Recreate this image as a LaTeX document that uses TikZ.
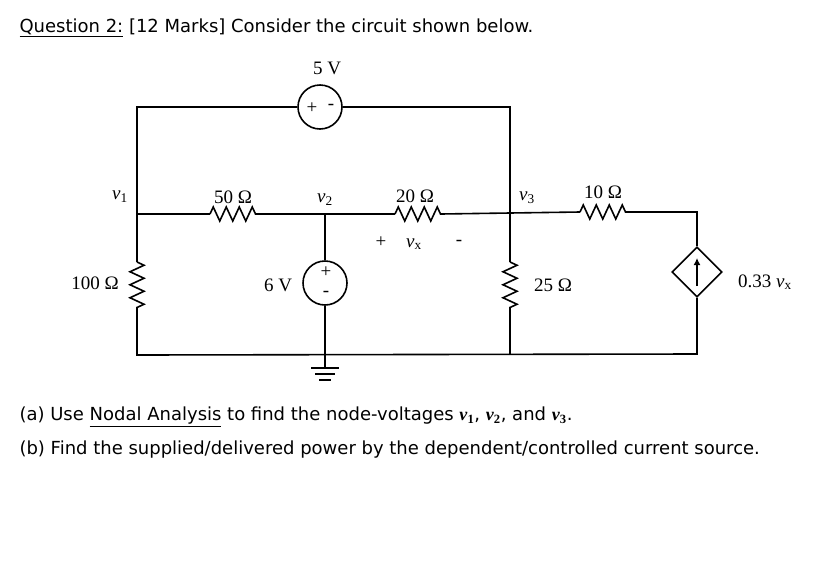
\documentclass[tikz,border=0pt]{standalone}
\usepackage{fontspec}
\setmainfont{Liberation Serif}
\newfontfamily\qsans{DejaVu Sans}
\newfontfamily\qserif{Liberation Serif}
\usetikzlibrary{decorations.pathmorphing,shapes.geometric,arrows.meta}
\newcommand{\vv}[1]{\qserif\textit{v}\textsubscript{#1}}
\begin{document}
\begin{tikzpicture}[x=1pt,y=-1pt,
  w/.style={line width=1.6pt},
  res/.style={w,decorate,decoration={zigzag,segment length=13pt,amplitude=7pt}},
  src/.style={circle,draw,line width=1.6pt,minimum size=44pt,inner sep=0pt},
  dsrc/.style={diamond,draw,line width=1.6pt,minimum size=50pt,inner sep=0pt},
  lab/.style={font=\fontsize{19}{19}\selectfont},
  q/.style={anchor=west,font=\qsans\fontsize{18}{20}\selectfont}]
\useasboundingbox (0,0) rectangle (832,560);
\fill[white] (0,0) rectangle (832,560);
% coordinates
\coordinate (tl) at (137,107); \coordinate (tr) at (510,107);
\coordinate (n1) at (137,214); \coordinate (n2) at (325,214); \coordinate (n3) at (510,213);
\coordinate (bl) at (137,355); \coordinate (g) at (325,355); \coordinate (b3) at (510,354); \coordinate (br) at (697,354);
\coordinate (tr2) at (697,212);
\coordinate (r50a) at (210,214); \coordinate (r50b) at (256,214);
\coordinate (r20a) at (395,214); \coordinate (r20b) at (441,214);
\coordinate (r10a) at (580,212); \coordinate (r10b) at (626,212);
\coordinate (r100a) at (137,262); \coordinate (r100b) at (137,310);
\coordinate (r25a) at (510,262); \coordinate (r25b) at (510,310);
\node[src] (s5) at (320,107) {};
\node[src] (s6) at (325,283) {};
\node[dsrc] (dep) at (697,272) {};
% wires
\draw[w] (s5) -- (tl) -- (n1) -- (r50a); \draw[w] (s5) -- (tr) -- (n3);
\draw[res] (r50a) -- (r50b); \draw[w] (r50b) -- (n2) -- (r20a);
\draw[res] (r20a) -- (r20b); \draw[w] (r20b) -- (n3) -- (r10a);
\draw[res] (r10a) -- (r10b); \draw[w] (r10b) -- (tr2) -- (dep.north);
\draw[w] (n1) -- (r100a); \draw[res] (r100a) -- (r100b); \draw[w] (r100b) -- (bl) -- (br) -- (dep.south);
\draw[w] (n3) -- (r25a); \draw[res] (r25a) -- (r25b); \draw[w] (r25b) -- (b3);
\draw[w] (n2) -- (s6.north); \draw[w] (s6.south) -- (g) -- (325,368);
\draw[w] (311,368) -- (339,368) (315,374) -- (335,374) (319,380) -- (331,380);
\draw[w,-{Latex[length=7pt,width=7pt]}] (697,286) -- (697,258);
% source signs
\node[lab] (p5) at (312,108) {+}; \node[lab] (m5) at (331,107) {-};
\node[lab] (p6) at (326,272) {+}; \node[lab] (m6) at (326,294) {-};
% labels
\node[lab] (l5) at (327,68) {5 V};
\node[lab] (lv1) at (120,197) {\vv{1}};
\node[lab] (l50) at (233,197) {50 Ω};
\node[lab] (lv2) at (325,200) {\vv{2}};
\node[lab] (l20) at (415,196) {20 Ω};
\node[lab] (lv3) at (527,198) {\vv{3}};
\node[lab] (l10) at (603,192) {10 Ω};
\node[lab] (lp) at (381,242) {+};
\node[lab] (lvx) at (414,244) {\vv{x}};
\node[lab] (lm) at (459,243) {-};
\node[lab] (l100) at (95,283) {100 Ω};
\node[lab] (l6) at (278,285) {6 V};
\node[lab] (l25) at (553,285) {25 Ω};
\node[lab] (l033) at (765,282) {0.33 \vv{x}};
% text
\node[q] (t1) at (16,28) {\underline{Question 2:} [12 Marks] Consider the circuit shown below.};
\node[q] (t2) at (16,417) {(a) Use \underline{Nodal Analysis} to find the node-voltages {\bfseries\vv{1}}, {\bfseries\vv{2}}, and {\bfseries\vv{3}}.};
\node[q] (t3) at (16,450) {(b) Find the supplied/delivered power by the dependent/controlled current source.};
\end{tikzpicture}
\end{document}
